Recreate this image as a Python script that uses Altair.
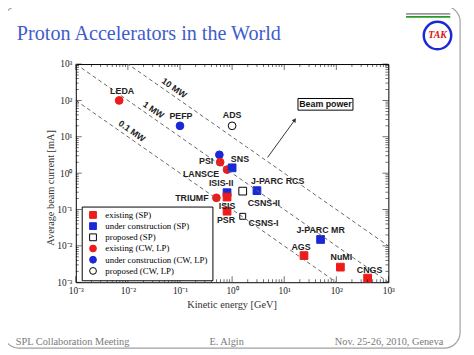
import altair as alt
import pandas as pd

# ---------------- data ----------------
names = ["LEDA", "PEFP", "ADS", "", "PSI", "LANSCE", "SNS", "ISIS-II", "J-PARC RCS",
         "CSNS-II", "TRIUMF", "ISIS", "PSR", "CSNS-I", "J-PARC MR", "AGS", "NuMI", "CNGS"]
energy_gev = [0.0068, 0.1, 1.0, 0.57, 0.59, 0.8, 1.0, 0.8, 3.0,
              1.6, 0.5, 0.8, 0.8, 1.6, 50, 24, 120, 400]
current_ma = [100, 20, 20, 3.2, 2.0, 1.25, 1.4, 0.29, 0.33,
              0.32, 0.21, 0.22, 0.09, 0.065, 0.015, 0.0054, 0.0026, 0.0013]
category = ["existing (CW, LP)", "under construction (CW, LP)", "proposed (CW, LP)",
            "under construction (CW, LP)", "existing (CW, LP)", "existing (CW, LP)",
            "under construction (SP)", "under construction (SP)", "under construction (SP)",
            "proposed (SP)", "existing (CW, LP)", "existing (SP)", "existing (SP)",
            "proposed (SP)", "under construction (SP)", "existing (SP)", "existing (SP)",
            "existing (SP)"]

categories = ["existing (SP)", "under construction (SP)", "proposed (SP)",
              "existing (CW, LP)", "under construction (CW, LP)", "proposed (CW, LP)"]

power_mw = [10, 1, 0.1]
power_labels = ["10 MW", "1 MW", "0.1 MW"]
power_label_energy = [0.065, 0.026, 0.01]

axis_decades = [1e-3, 1e-2, 1e-1, 1e0, 1e1, 1e2, 1e3]

# ---------------- styles ----------------
RED = "#ee1b1b"
BLUE = "#1a28d6"
shapes = ["square", "square", "square", "circle", "circle", "circle"]
fills = [RED, BLUE, "white", RED, BLUE, "white"]
strokes = [RED, BLUE, "black", RED, BLUE, "black"]
sizes = {"CSNS-I": 36}

label_style = {
    "LEDA": ("center", 3, -10), "PEFP": ("center", 1, -10), "ADS": ("center", 0, -11),
    "PSI": ("right", -7, -1), "LANSCE": ("right", -8, 4), "SNS": ("center", 8, -9),
    "ISIS-II": ("center", -6, -10), "J-PARC RCS": ("left", -6, -10),
    "CSNS-II": ("left", 5, 12), "TRIUMF": ("right", -8, 0), "ISIS": ("center", 0, 9),
    "PSR": ("center", -1, 9), "CSNS-I": ("left", 6, 7), "J-PARC MR": ("center", 0, -10),
    "AGS": ("center", -3, -9), "NuMI": ("center", 1, -10), "CNGS": ("center", 2, -8),
}

W, H = 318, 222
SERIF = "Liberation Serif"
SANS = "Liberation Sans"

xs = alt.Scale(type="log", domain=[1e-3, 1e3], nice=False)
ys = alt.Scale(type="log", domain=[1e-3, 1e3], nice=False)

sup_expr = ("'10' + ['\u207b\u00b3','\u207b\u00b2','\u207b\u00b9','\u2070','\u00b9','\u00b2','\u00b3']"
            "[round(log(datum.value)/LN10)+3]")

x_axis = alt.Axis(values=axis_decades, labelExpr=sup_expr, ticks=False, domain=False,
                  grid=False, labelFont=SERIF, labelFontSize=9.5, labelColor="#222",
                  labelPadding=3, labelFlush=False, title=None)
y_axis = alt.Axis(values=axis_decades, labelExpr=sup_expr, ticks=False, domain=False,
                  grid=False, labelFont=SERIF, labelFontSize=9.5, labelColor="#222",
                  labelPadding=4, labelFlush=False, title=None)


def X(f):
    return alt.X(f, scale=xs, axis=x_axis, title=None)


def Y(f):
    return alt.Y(f, scale=ys, axis=y_axis, title=None)


df = pd.DataFrame({"name": names, "E": energy_gev, "I": current_ma, "cat": category})
df["sz"] = [sizes.get(n, 62) for n in names]

legend = alt.Legend(title=None, orient="none", legendX=6, legendY=145, strokeColor="black",
                    fillColor="white", padding=4, labelFont=SERIF, labelFontSize=9,
                    labelColor="black", symbolSize=48, symbolStrokeWidth=1, rowPadding=0.4,
                    symbolOffset=3, labelOffset=8, cornerRadius=0)

points = alt.Chart(df).mark_point(filled=True, opacity=1, strokeWidth=1).encode(
    x=X("E:Q"), y=Y("I:Q"),
    shape=alt.Shape("cat:N", scale=alt.Scale(domain=categories, range=shapes), legend=legend),
    fill=alt.Fill("cat:N", scale=alt.Scale(domain=categories, range=fills), legend=legend),
    stroke=alt.Stroke("cat:N", scale=alt.Scale(domain=categories, range=strokes), legend=legend),
    size=alt.Size("sz:Q", scale=None, legend=None),
)

# power lines I = P / E
rows = []
for p in power_mw:
    for e in [1e-3, 1e3]:
        rows.append({"P": p, "E": e, "I": p / e})
lines = alt.Chart(pd.DataFrame(rows)).mark_line(
    clip=True, color="#666", strokeDash=[4, 3], strokeWidth=1).encode(
    x=X("E:Q"), y=Y("I:Q"), detail="P:N")

pl = pd.DataFrame({"E": power_label_energy,
                   "I": [p / e for p, e in zip(power_mw, power_label_energy)],
                   "t": power_labels})
power_text = alt.Chart(pl).mark_text(
    angle=35, dy=-7, font=SANS, fontWeight="bold", fontSize=9, color="#222",
    baseline="middle").encode(x=X("E:Q"), y=Y("I:Q"), text="t:N")

# point labels
label_layers = []
for n in names:
    if not n:
        continue
    al, dx, dy = label_style[n]
    label_layers.append(
        alt.Chart(df[df["name"] == n]).mark_text(
            align=al, dx=dx, dy=dy, baseline="middle", font=SANS, fontWeight="bold",
            fontSize=9, color="#222").encode(x=X("E:Q"), y=Y("I:Q"), text="name:N"))

# beam power annotation
arrow_df = pd.DataFrame({"E": [4.8], "I": [2.7], "E2": [16.0], "I2": [29.0]})
arrow_line = alt.Chart(arrow_df).mark_rule(color="#333", strokeWidth=1).encode(
    x=X("E:Q"), y=Y("I:Q"), x2="E2:Q", y2="I2:Q")
arrow_head = alt.Chart(arrow_df).mark_point(
    shape="triangle-up", angle=36, filled=True, color="#333", size=22, opacity=1).encode(
    x=X("E2:Q"), y=Y("I2:Q"))
box_df = pd.DataFrame({"E": [18.4], "E2": [209.0], "I": [113.0], "I2": [54.0],
                       "Ec": [62.0], "Ic": [78.0], "t": ["Beam power"]})
box = alt.Chart(box_df).mark_rect(fill="white", stroke="black", strokeWidth=1).encode(
    x=X("E:Q"), x2="E2:Q", y=Y("I:Q"), y2="I2:Q")
box_text = alt.Chart(box_df).mark_text(font=SANS, fontWeight="bold", fontSize=9,
                                       color="#111", baseline="middle").encode(
    x=X("Ec:Q"), y=Y("Ic:Q"), text="t:N")

# axis ticks drawn inside the frame on all four sides
major = axis_decades
minor = [m * d for d in axis_decades[:-1] for m in range(2, 10)]
tick_layers = []
for vals, ln in [(major, 6), (minor, 3)]:
    tdf = pd.DataFrame({"v": vals})
    for yv in [H - ln / 2, ln / 2]:
        tick_layers.append(alt.Chart(tdf).mark_tick(
            orient="vertical", size=ln, thickness=0.8, color="black").encode(
            x=X("v:Q"), y=alt.value(yv)))
    for xv in [ln / 2, W - ln / 2]:
        tick_layers.append(alt.Chart(tdf).mark_tick(
            orient="horizontal", size=ln, thickness=0.8, color="black").encode(
            y=Y("v:Q"), x=alt.value(xv)))

# slide decorations
one = pd.DataFrame({"a": [0]})


def txt(s, x, y, **kw):
    return alt.Chart(one).mark_text(**kw).encode(x=alt.value(x), y=alt.value(y),
                                                 text=alt.value(s))


frame = alt.Chart(one).mark_rect(fill=None, stroke="#a0a0a0", strokeWidth=1.2,
                                 cornerRadius=16).encode(
    x=alt.value(-74), x2=alt.value(391), y=alt.value(-59), y2=alt.value(289))

title = txt("Proton Accelerators in the World", -60, -24, align="left", baseline="alphabetic",
            font=SERIF, fontSize=20.5, color="#3f5ccc")
xtitle = txt("Kinetic energy [GeV]", 159, 245, align="center", baseline="middle",
             font=SERIF, fontSize=10.5, color="#333")
ytitle = txt("Average beam current [mA]", -25, 126, align="center", baseline="middle",
             angle=270, font=SERIF, fontSize=10.5, color="#333")
foot1 = txt("SPL Collaboration Meeting", -61, 286, align="left", font=SERIF, fontSize=10.5,
            color="#7a7a7a", baseline="alphabetic")
foot2 = txt("E. Algin", 136, 286, align="left", font=SERIF, fontSize=10.5,
            color="#7a7a7a", baseline="alphabetic")
foot3 = txt("Nov. 25-26, 2010, Geneva", 374, 286, align="right", font=SERIF, fontSize=10.5,
            color="#7a7a7a", baseline="alphabetic")

logo_ring = alt.Chart(one).mark_point(shape="circle", size=780, filled=False, color="#1a28d6",
                                      strokeWidth=2.5, opacity=1).encode(
    x=alt.value(368), y=alt.value(-29))
logo_text = txt("TAK", 368, -29, align="center", baseline="middle", font=SERIF,
                fontStyle="italic", fontWeight="bold", fontSize=10, color="#e01010")
logo_bar = alt.Chart(one).mark_rule(color="#2a9a2a", strokeWidth=2).encode(
    x=alt.value(336), x2=alt.value(381), y=alt.value(-48))
logo_bar2 = alt.Chart(one).mark_rule(color="#4a4a4a", strokeWidth=1).encode(
    x=alt.value(336), x2=alt.value(381), y=alt.value(-51))

chart = alt.layer(
    points, frame, lines, power_text, arrow_line, arrow_head, box, box_text,
    *tick_layers, *label_layers,
    title, xtitle, ytitle, foot1, foot2, foot3, logo_ring, logo_text, logo_bar, logo_bar2,
).properties(
    width=W, height=H, autosize="none",
    padding={"left": 69, "top": 54, "right": 79, "bottom": 71},
    background="white",
).configure_view(stroke="black", strokeWidth=1)

chart.save("out.html", embed_options={"renderer": "svg", "actions": False})
